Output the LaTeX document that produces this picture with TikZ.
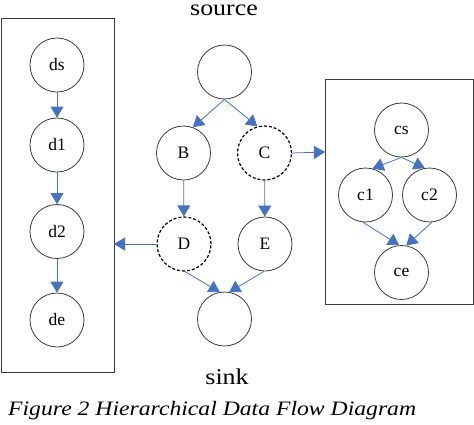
\documentclass[tikz,border=0pt]{standalone}
\usepackage{fontspec}
\setmainfont{Liberation Serif}
\usetikzlibrary{arrows.meta}
\definecolor{arrblue}{RGB}{68,114,196}
\definecolor{circgray}{RGB}{60,60,60}
\tikzset{
  proc/.style={circle,draw=circgray,line width=0.8pt,minimum size=54pt,inner sep=0pt,font=\fontsize{17.5}{20}\selectfont},
  dproc/.style={proc,draw=black,dashed,dash pattern=on 3pt off 2pt,line width=1.2pt},
  flow/.style={draw=arrblue,line width=0.8pt,-{Triangle[length=11pt,width=13pt]}},
  frame/.style={draw=circgray,line width=1pt},
  bigtxt/.style={font=\fontsize{22.5}{26}\selectfont,inner sep=0pt}
}
\begin{document}
\begin{tikzpicture}[x=1pt,y=-1pt]
\useasboundingbox (0,0) rectangle (474,424);
% frames
\draw[frame] (1,18) rectangle (114,372);
\draw[frame] (325,79) rectangle (473,304);
\coordinate (lb) at (114,244);
\coordinate (rb) at (325,152);
% main graph
\node[proc] (src) at (224.5,72) {};
\node[proc] (B) at (183.5,153) {B};
\node[dproc] (C) at (264.5,153) {C};
\node[dproc] (D) at (184,244) {D};
\node[proc] (E) at (265,244) {E};
\node[proc] (snk) at (224.5,319) {};
\node[bigtxt,anchor=base] (srct) at (224,15) {\scalebox{1.15}[1]{source}};
\node[bigtxt,anchor=base] (snkt) at (227,384) {\scalebox{1.15}[1]{sink}};
% left subgraph
\node[proc] (ds) at (57,65) {ds};
\node[proc] (d1) at (57,145) {d1};
\node[proc] (d2) at (57,231.5) {d2};
\node[proc] (de) at (57,320) {de};
% right subgraph
\node[proc] (cs) at (401.5,130) {cs};
\node[proc] (c1) at (365.5,195) {c1};
\node[proc] (c2) at (429.5,195) {c2};
\node[proc] (ce) at (401.5,272.5) {ce};
% caption
\node[font=\fontsize{20.5}{24}\selectfont\itshape,anchor=base west,inner sep=0pt] (cap) at (8,415) {\scalebox{1.155}[1]{Figure 2 Hierarchical Data Flow Diagram}};
% flows
\draw[flow] (src.south) -- (B.70);
\draw[flow] (src.south) -- (C.105);
\draw[flow] (B) -- (D);
\draw[flow] (C) -- (E);
\draw[flow] (D.272) -- (snk.100);
\draw[flow] (E.268) -- (snk.80);
\draw[flow] (C.east) -- (rb);
\draw[flow] (D.west) -- (lb);
\draw[flow] (ds) -- (d1);
\draw[flow] (d1) -- (d2);
\draw[flow] (d2) -- (de);
\draw[flow] (cs.south) -- (c1.75);
\draw[flow] (cs.south) -- (c2.100);
\draw[flow] (c1.265) -- (ce.95);
\draw[flow] (c2.275) -- (ce.80);
\end{tikzpicture}
\end{document}
